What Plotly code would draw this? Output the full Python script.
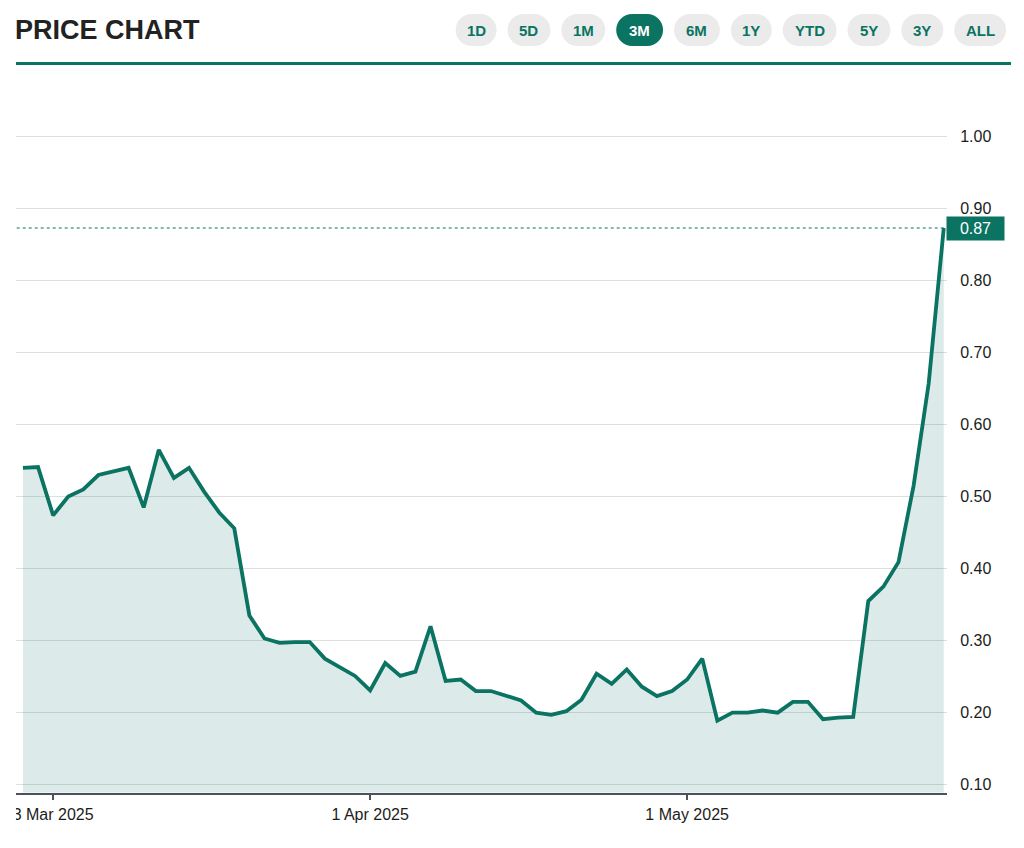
import plotly.graph_objects as go

# ---------------- data ----------------
dates = [
    "2025-02-27", "2025-02-28",
    "2025-03-03", "2025-03-04", "2025-03-05", "2025-03-06", "2025-03-07",
    "2025-03-10", "2025-03-11", "2025-03-12", "2025-03-13", "2025-03-14",
    "2025-03-17", "2025-03-18", "2025-03-19", "2025-03-20", "2025-03-21",
    "2025-03-24", "2025-03-25", "2025-03-26", "2025-03-27", "2025-03-28",
    "2025-03-31",
    "2025-04-01", "2025-04-02", "2025-04-03", "2025-04-04",
    "2025-04-07", "2025-04-08", "2025-04-09", "2025-04-10", "2025-04-11",
    "2025-04-14", "2025-04-15", "2025-04-16", "2025-04-17",
    "2025-04-21", "2025-04-22", "2025-04-23", "2025-04-24", "2025-04-25",
    "2025-04-28", "2025-04-29", "2025-04-30",
    "2025-05-01", "2025-05-02",
    "2025-05-05", "2025-05-06", "2025-05-07", "2025-05-08", "2025-05-09",
    "2025-05-12", "2025-05-13", "2025-05-14", "2025-05-15", "2025-05-16",
    "2025-05-19", "2025-05-20", "2025-05-21", "2025-05-22", "2025-05-23",
    "2025-05-27",
]
prices = [
    0.540, 0.541,
    0.474, 0.500, 0.510, 0.530, 0.535,
    0.540, 0.485, 0.565, 0.526, 0.540,
    0.507, 0.478, 0.456, 0.335, 0.303,
    0.297, 0.298, 0.298, 0.275, 0.263,
    0.251,
    0.231, 0.269, 0.251, 0.257,
    0.320, 0.244, 0.246, 0.230, 0.230,
    0.223, 0.217, 0.200, 0.197,
    0.202, 0.218, 0.254, 0.240, 0.260,
    0.236, 0.223, 0.230,
    0.246, 0.275,
    0.189, 0.200, 0.200, 0.203, 0.200,
    0.215, 0.215, 0.191, 0.193, 0.194,
    0.355, 0.375, 0.409, 0.515, 0.657,
    0.873,
]
x_tick_dates = ["2025-03-03", "2025-04-01", "2025-05-01"]
x_tick_labels = ["3 Mar 2025", "1 Apr 2025", "1 May 2025"]
y_tick_vals = [0.10, 0.20, 0.30, 0.40, 0.50, 0.60, 0.70, 0.80, 0.90, 1.00]
range_buttons = ["1D", "5D", "1M", "3M", "6M", "1Y", "YTD", "5Y", "3Y", "ALL"]
selected_button = "3M"
title_text = "PRICE CHART"

# ---------------- styling ----------------
W, H = 1024, 848
TEAL = "#0a7362"
FILL = "rgba(10,115,98,0.14)"
GRID = "#dcdfdf"
TEXT = "#1c1c1c"
FONT = "Liberation Sans, Arial, Helvetica, sans-serif"


def px(x):
    return x / W


def py(y):
    return 1 - y / H


def pill_path(x0, x1, y0, y1):
    r = (y1 - y0) / 2.0
    k = 0.5523 * r
    cy = (y0 + y1) / 2.0
    pts = [
        ("M", [(x0 + r, y0)]),
        ("L", [(x1 - r, y0)]),
        ("C", [(x1 - r + k, y0), (x1, cy - k), (x1, cy)]),
        ("C", [(x1, cy + k), (x1 - r + k, y1), (x1 - r, y1)]),
        ("L", [(x0 + r, y1)]),
        ("C", [(x0 + r - k, y1), (x0, cy + k), (x0, cy)]),
        ("C", [(x0, cy - k), (x0 + r - k, y0), (x0 + r, y0)]),
    ]
    s = ""
    for cmd, ps in pts:
        s += cmd + " ".join(f"{px(a):.5f},{py(b):.5f}" for a, b in ps) + " "
    return s + "Z"


fig = go.Figure()
fig.add_trace(go.Scatter(
    x=dates, y=prices, mode="lines",
    line=dict(color=TEAL, width=3.8),
    fill="tozeroy", fillcolor=FILL,
    hoverinfo="skip", showlegend=False,
))

# plot area placement (pixels)
left_px, right_px = 13, 947
top_px, bottom_px = 100, 793.5
step = 15.14  # px per trading day
first_px = 20
x_lo = (left_px - first_px) / step
x_hi = (right_px - first_px) / step
ppu = 721.0  # px per price unit
y_hi = 1.0 + (136.7 - top_px) / ppu
y_lo = 1.0 - (bottom_px - 136.7) / ppu

shapes = []
annotations = []

# header underline
shapes.append(dict(type="line", xref="paper", yref="paper",
                   x0=px(13), x1=px(1011), y0=py(63.5), y1=py(63.5),
                   line=dict(color=TEAL, width=3), layer="above"))

# buttons
btn_spans = [(454, 495), (506, 549), (560, 604), (615, 662), (673, 719),
             (730, 771), (782, 836), (847, 890), (901, 943), (954, 1006)]
for lab, (bx0, bx1) in zip(range_buttons, btn_spans):
    sel = lab == selected_button
    shapes.append(dict(type="path", xref="paper", yref="paper",
                       path=pill_path(bx0, bx1, 14, 46),
                       fillcolor=TEAL if sel else "#ebebeb",
                       line=dict(width=0), layer="above"))
    annotations.append(dict(xref="paper", yref="paper",
                            x=px((bx0 + bx1) / 2), y=py(30.5),
                            text=f"<b>{lab}</b>", showarrow=False,
                            xanchor="center", yanchor="middle",
                            font=dict(family=FONT, size=15,
                                      color="#ffffff" if sel else TEAL)))

# title
annotations.append(dict(xref="paper", yref="paper", x=px(10), y=py(30),
                        text=f"<b>{title_text}</b>", showarrow=False,
                        xanchor="left", yanchor="middle",
                        font=dict(family=FONT, size=27, color="#222222")))

# last price dotted line and label
last = prices[-1]
shapes.append(dict(type="line", xref="x", yref="y",
                   x0=x_lo + 0.05, x1=len(prices) - 1, y0=last, y1=last,
                   line=dict(color=TEAL, width=1.2, dash="dot"), layer="above"))
annotations.append(dict(xref="paper", yref="y", x=px(946), y=last,
                        text=f"{last:.2f}", showarrow=False,
                        xanchor="left", yanchor="middle",
                        width=51, height=17, align="center", borderpad=3,
                        bgcolor=TEAL,
                        font=dict(family=FONT, size=16, color="#ffffff")))

# clip first x tick label at the axis start, as in the reference
shapes.append(dict(type="rect", xref="paper", yref="paper",
                   x0=0, x1=px(left_px), y0=py(835), y1=py(798),
                   fillcolor="#ffffff", line=dict(width=0), layer="above"))

fig.update_layout(
    width=W, height=H,
    margin=dict(l=0, r=0, t=0, b=0),
    paper_bgcolor="#ffffff", plot_bgcolor="#ffffff",
    font=dict(family=FONT, size=16, color=TEXT),
    shapes=shapes, annotations=annotations,
    xaxis=dict(
        type="category",
        domain=[px(left_px), px(right_px)],
        range=[x_lo, x_hi],
        tickmode="array", tickvals=x_tick_dates, ticktext=x_tick_labels,
        showgrid=False, zeroline=False,
        showline=True, linecolor="#4c5160", linewidth=1.5,
        ticks="outside", ticklen=6, tickwidth=1.5, tickcolor="#4c5160",
        tickfont=dict(family=FONT, size=16, color=TEXT),
        fixedrange=True,
    ),
    yaxis=dict(
        side="right",
        domain=[py(bottom_px), py(top_px)],
        range=[y_lo, y_hi],
        tickmode="array", tickvals=y_tick_vals,
        tickformat=".2f",
        showgrid=True, gridcolor=GRID, gridwidth=1,
        zeroline=False, showline=False, ticks="",
        ticklabelstandoff=12,
        tickfont=dict(family=FONT, size=16, color=TEXT),
        fixedrange=True,
    ),
)

fig.write_html("out.html")
